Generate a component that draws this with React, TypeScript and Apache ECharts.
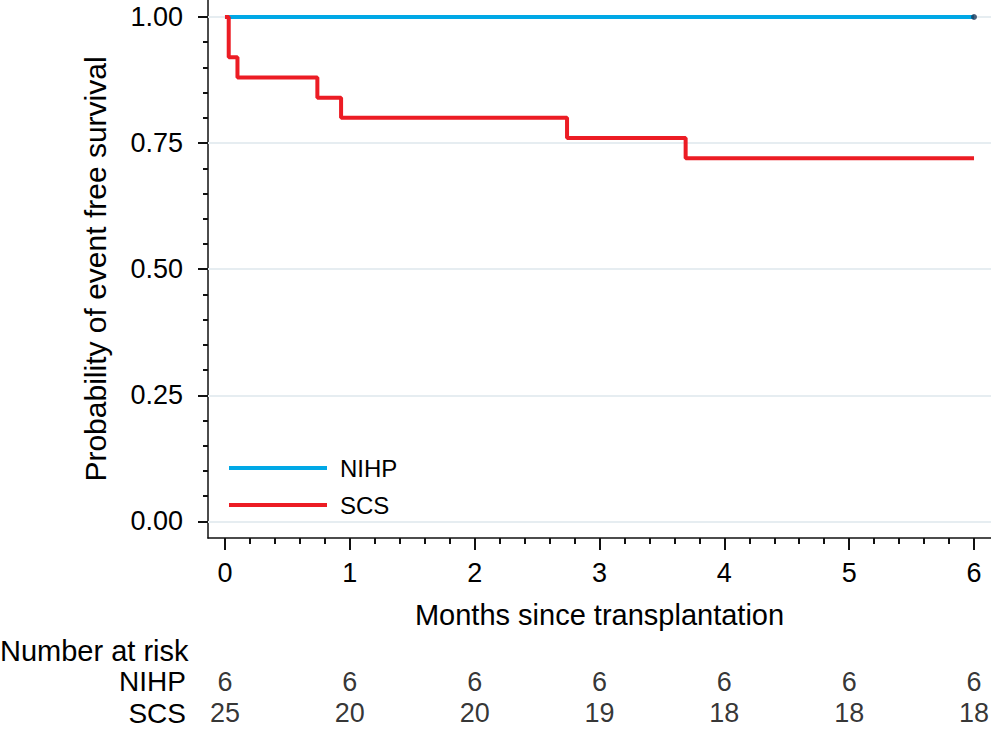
import React, { useEffect, useRef } from "react";
import * as echarts from "echarts";

// ---- data ----
const groups = ["NIHP", "SCS"];
const nihpCurve: [number, number][] = [
  [0, 1.0],
  [6.0, 1.0],
];
const nihpCensor: [number, number][] = [[6.0, 1.0]];
const scsCurve: [number, number][] = [
  [0, 1.0],
  [0.03, 0.92],
  [0.1, 0.88],
  [0.74, 0.84],
  [0.93, 0.8],
  [2.74, 0.76],
  [3.69, 0.72],
  [6.0, 0.72],
];
const xTicks = [0, 1, 2, 3, 4, 5, 6];
const yTicks = [0, 0.25, 0.5, 0.75, 1.0];
const riskTimes = [0, 1, 2, 3, 4, 5, 6];
const riskNIHP = [6, 6, 6, 6, 6, 6, 6];
const riskSCS = [25, 20, 20, 19, 18, 18, 18];

// minor tick positions (5 sub-intervals per major interval)
const minorOf = (ticks: number[]) => {
  const out: number[] = [];
  for (let i = 0; i < ticks.length - 1; i++) {
    const step = (ticks[i + 1] - ticks[i]) / 5;
    for (let k = 1; k < 5; k++) out.push(+(ticks[i] + k * step).toFixed(4));
  }
  return out;
};
const xMinor = minorOf(xTicks);
const yMinor = minorOf(yTicks);

const FONT = "'Liberation Sans', Arial, Helvetica, sans-serif";
const BLUE = "#00a8e6";
const RED = "#ec1c24";
const X_MIN = -0.136;
const X_MAX = 6.136;
const Y_MIN = -0.033;
const Y_MAX = 1.0337;

export default function App() {
  const ref = useRef<HTMLDivElement>(null);
  useEffect(() => {
    if (!ref.current) return;
    const chart = echarts.init(ref.current, undefined, { renderer: "svg" });
    const riskData: any[] = [];
    riskTimes.forEach((t, i) => {
      riskData.push([t, 0, riskNIHP[i]]);
      riskData.push([t, 1, riskSCS[i]]);
    });
    chart.setOption({
      animation: false,
      textStyle: { fontFamily: FONT, color: "#000" },
      title: {
        text: "Number at risk",
        left: 0,
        top: 636,
        padding: 0,
        textStyle: { fontFamily: FONT, fontSize: 29, fontWeight: "normal", color: "#000" },
      },
      legend: {
        data: groups.map((g) => ({ name: g, icon: "rect" })),
        orient: "vertical",
        left: 229,
        top: 456,
        padding: 0,
        itemWidth: 98,
        itemHeight: 4,
        itemGap: 13,
        textStyle: { fontFamily: FONT, fontSize: 24, color: "#000", padding: [0, 0, 0, 8] },
      },
      grid: [
        { left: 208, right: 0, top: 0, height: 538 },
        { left: 208, right: 0, top: 666, height: 68 },
      ],
      xAxis: [
        {
          type: "value",
          gridIndex: 0,
          position: "bottom",
          min: X_MIN,
          max: X_MAX,
          name: "Months since transplantation",
          nameLocation: "middle",
          nameGap: 62,
          nameTextStyle: { fontFamily: FONT, fontSize: 29, color: "#000" },
          axisLine: { show: true, onZero: false, lineStyle: { color: "#111", width: 1.5 } },
          axisTick: { show: true, customValues: xTicks, length: 12, lineStyle: { color: "#111", width: 2 } },
          axisLabel: {
            customValues: xTicks,
            fontFamily: FONT,
            fontSize: 27,
            color: "#000",
            margin: 21,
          },
          splitLine: { show: false },
        },
        {
          type: "value",
          gridIndex: 0,
          position: "bottom",
          min: X_MIN,
          max: X_MAX,
          axisLine: { show: false, onZero: false },
          axisTick: { show: true, customValues: xMinor, length: 6, lineStyle: { color: "#111", width: 2 } },
          axisLabel: { show: false },
          splitLine: { show: false },
        },
        {
          type: "value",
          gridIndex: 1,
          min: X_MIN,
          max: X_MAX,
          show: false,
        },
      ],
      yAxis: [
        {
          type: "value",
          gridIndex: 0,
          position: "left",
          min: Y_MIN,
          max: Y_MAX,
          name: "Probability of event free survival",
          nameLocation: "middle",
          nameGap: 98,
          nameTextStyle: { fontFamily: FONT, fontSize: 30, color: "#000" },
          axisLine: { show: true, onZero: false, lineStyle: { color: "#111", width: 1.5 } },
          axisTick: { show: true, customValues: yTicks, length: 10, lineStyle: { color: "#111", width: 2 } },
          axisLabel: {
            customValues: yTicks,
            formatter: (v: number) => v.toFixed(2),
            fontFamily: FONT,
            fontSize: 27,
            color: "#000",
            margin: 25,
          },
          splitLine: { show: false },
        },
        {
          type: "value",
          gridIndex: 0,
          position: "left",
          min: Y_MIN,
          max: Y_MAX,
          axisLine: { show: false, onZero: false },
          axisTick: { show: true, customValues: yMinor, length: 5, lineStyle: { color: "#111", width: 2 } },
          axisLabel: { show: false },
          splitLine: { show: false },
        },
        {
          type: "category",
          gridIndex: 1,
          position: "left",
          data: groups,
          inverse: true,
          axisLine: { show: false, onZero: false },
          axisTick: { show: false },
          axisLabel: { interval: 0, fontFamily: FONT, fontSize: 28, color: "#000", margin: 22 },
          splitLine: { show: false },
        },
      ],
      series: [
        {
          name: "gridlines",
          type: "line",
          xAxisIndex: 0,
          yAxisIndex: 0,
          data: [],
          z: 1,
          silent: true,
          markLine: {
            silent: true,
            z: 1,
            symbol: ["none", "none"],
            label: { show: false },
            emphasis: { disabled: true },
            lineStyle: { color: "#e6edf1", width: 2, type: "solid" },
            data: yTicks.map((v) => ({ yAxis: v })),
          },
        },
        {
          name: "NIHP",
          type: "line",
          xAxisIndex: 0,
          yAxisIndex: 0,
          step: "end",
          data: nihpCurve,
          showSymbol: false,
          symbol: "none",
          z: 3,
          lineStyle: { color: BLUE, width: 4 },
          itemStyle: { color: BLUE },
        },
        {
          name: "SCS",
          type: "line",
          xAxisIndex: 0,
          yAxisIndex: 0,
          step: "end",
          data: scsCurve,
          showSymbol: false,
          symbol: "none",
          z: 4,
          lineStyle: { color: RED, width: 4 },
          itemStyle: { color: RED },
        },
        {
          name: "NIHP censored",
          type: "scatter",
          xAxisIndex: 0,
          yAxisIndex: 0,
          data: nihpCensor,
          symbolSize: 6,
          z: 5,
          itemStyle: { color: "#1d3a5a" },
        },
        {
          name: "Number at risk",
          type: "scatter",
          xAxisIndex: 2,
          yAxisIndex: 2,
          data: riskData,
          symbolSize: 1,
          itemStyle: { color: "rgba(0,0,0,0)" },
          label: {
            show: true,
            position: "inside",
            formatter: (p: any) => String(p.value[2]),
            fontFamily: FONT,
            fontSize: 27,
            color: "#000",
          },
        },
      ],
    });
    return () => chart.dispose();
  }, []);
  return (
    <div
      ref={ref}
      style={{ position: "fixed", left: 0, top: 0, width: 991, height: 729, background: "#fff" }}
    />
  );
}
